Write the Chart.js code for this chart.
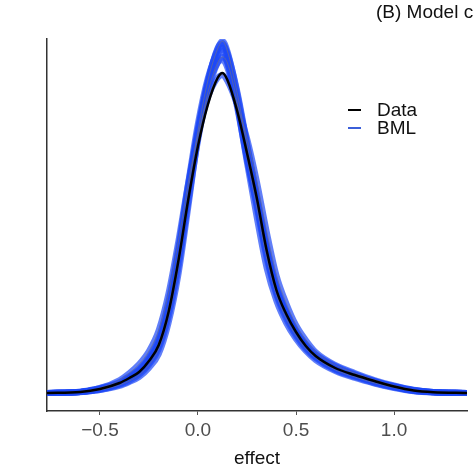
<!DOCTYPE html>
<html>
<head>
<meta charset="utf-8">
<script src="https://cdn.jsdelivr.net/npm/chart.js@4.4.1/dist/chart.umd.min.js"></script>
<style>
  html, body { margin:0; padding:0; background:#fff; overflow:hidden; }
  #wrap { position:relative; width:474px; height:474px; font-family:"Liberation Sans", Arial, sans-serif; }
  #title { position:absolute; left:376px; top:1px; font-size:19px; color:#111; white-space:nowrap; }
  .leg { position:absolute; left:348px; font-size:19px; color:#111; display:flex; align-items:center; }
  .leg span.key { display:inline-block; width:13px; height:2px; margin-right:16px; }
</style>
</head>
<body>
<div id="wrap">
  <canvas id="chart" width="474" height="474"></canvas>
  <div id="title">(B) Model c</div>
  <div class="leg" style="top:99px"><span class="key" style="background:#000"></span>Data</div>
  <div class="leg" style="top:117px"><span class="key" style="background:#3b5fd9"></span>BML</div>
</div>
<script>
// ----- DATA -----
const xs = [-0.77,-0.6,-0.5,-0.4,-0.35,-0.3,-0.25,-0.2,-0.15,-0.1,-0.05,0,0.05,0.1,0.125,0.15,0.2,0.25,0.3,0.35,0.4,0.45,0.5,0.55,0.6,0.7,0.8,0.9,1.0,1.1,1.2,1.372];
const dataDensity = [0,0.01,0.04,0.10,0.15,0.21,0.32,0.48,0.81,1.32,1.93,2.47,2.88,3.15,3.20,3.13,2.82,2.40,1.95,1.43,1.03,0.79,0.61,0.47,0.37,0.25,0.18,0.12,0.065,0.025,0.008,0];
const bml1 = [0,0.01,0.04,0.09,0.14,0.21,0.32,0.50,0.85,1.40,2.05,2.65,3.10,3.38,3.45,3.35,2.95,2.42,1.90,1.40,1.02,0.78,0.60,0.47,0.37,0.25,0.17,0.11,0.06,0.025,0.008,0];
const bml2 = [0,0.01,0.05,0.11,0.17,0.24,0.36,0.55,0.92,1.45,2.10,2.70,3.15,3.42,3.48,3.40,3.02,2.50,1.98,1.48,1.08,0.82,0.63,0.49,0.39,0.27,0.19,0.12,0.07,0.03,0.01,0];
const bml3 = [0,0.01,0.03,0.08,0.12,0.18,0.28,0.44,0.76,1.25,1.90,2.52,3.00,3.30,3.36,3.30,2.90,2.35,1.85,1.35,0.98,0.74,0.57,0.44,0.35,0.23,0.16,0.10,0.055,0.02,0.006,0];
const bml4 = [0,0.01,0.04,0.10,0.16,0.23,0.34,0.52,0.88,1.38,2.00,2.58,3.05,3.30,3.33,3.25,2.88,2.45,1.97,1.45,1.05,0.81,0.62,0.48,0.38,0.26,0.18,0.115,0.065,0.028,0.009,0];
const bml5 = [0,0.01,0.04,0.09,0.14,0.20,0.30,0.47,0.82,1.33,2.00,2.60,3.08,3.36,3.42,3.30,2.85,2.33,1.88,1.38,1.00,0.77,0.59,0.46,0.36,0.24,0.17,0.11,0.06,0.022,0.007,0];
const bml6 = [0,0.01,0.04,0.10,0.15,0.22,0.33,0.50,0.86,1.38,2.02,2.62,3.12,3.44,3.52,3.42,3.00,2.48,1.96,1.44,1.04,0.80,0.61,0.47,0.37,0.25,0.18,0.12,0.065,0.026,0.008,0];
const bml7 = [0,0.015,0.05,0.13,0.20,0.29,0.42,0.63,1.00,1.52,2.10,2.58,2.95,3.15,3.18,3.12,2.88,2.55,2.12,1.62,1.18,0.90,0.68,0.53,0.41,0.28,0.20,0.13,0.075,0.032,0.011,0];
const bml8 = [0,0.008,0.03,0.07,0.11,0.16,0.25,0.39,0.70,1.18,1.85,2.55,3.10,3.45,3.50,3.38,2.88,2.30,1.75,1.25,0.92,0.70,0.54,0.42,0.33,0.22,0.15,0.095,0.05,0.018,0.005,0];
const xTicks = [-0.5, 0, 0.5, 1.0];

function pts(ys){ return xs.map((x,i)=>({x:x, y:ys[i]})); }

const blue = 'rgba(30,72,246,0.7)';
const grey = 'rgba(115,115,130,0.6)';

function line(ys, color, width, order){
  return { data: pts(ys), borderColor: color, borderWidth: width, pointRadius: 0,
    fill: false, cubicInterpolationMode: 'monotone', order: order };
}

const draws = [bml1, bml2, bml3, bml4, bml5, bml6, bml7, bml8];

const datasets = [
  Object.assign(line(dataDensity, '#000', 2.5, 0), {label:'Data'}),
  line(bml6, grey, 1, 1),
  line(bml3, grey, 1, 1),
  line(bml7, grey, 1, 1)
].concat(draws.map(d => line(d, blue, 6, 2)));

new Chart(document.getElementById('chart'), {
  type: 'line',
  data: { datasets: datasets },
  options: {
    responsive: false,
    animation: false,
    layout: { padding: { top: 39, right: 7, left: 0, bottom: 0 } },
    plugins: { legend: { display: false }, tooltip: { enabled: false } },
    scales: {
      x: {
        type: 'linear', min: -0.77, max: 1.372,
        afterBuildTicks: s => { s.ticks = xTicks.map(v => ({value: v})); },
        afterFit: s => { s.height = 63; },
        border: { display: true, color: '#333', width: 1.5 },
        grid: { drawOnChartArea: false, drawTicks: true, tickLength: 4, color: '#555' },
        ticks: {
          color: '#4d4d4d', padding: 4,
          font: { family: '"Liberation Sans", Arial, sans-serif', size: 19 },
          callback: v => (v < 0 ? '\u2212' : '') + Math.abs(v).toFixed(1)
        },
        title: { display: true, text: 'effect', color: '#111', padding: { top: 0, bottom: 4 },
          font: { family: '"Liberation Sans", Arial, sans-serif', size: 19 } }
      },
      y: {
        type: 'linear', min: -0.18, max: 3.54,
        afterFit: s => { s.width = 47; },
        border: { display: true, color: '#333', width: 1.5 },
        grid: { display: false, drawTicks: false },
        ticks: { display: false }
      }
    }
  }
});
</script>
</body>
</html>
